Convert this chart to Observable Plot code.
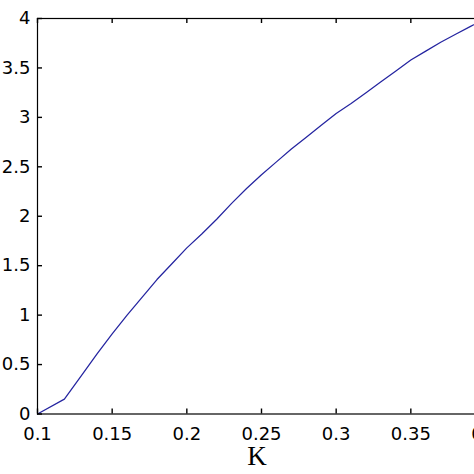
<!DOCTYPE html>
<html>
<head>
<meta charset="utf-8">
<script src="https://cdn.jsdelivr.net/npm/d3@7"></script>
<script src="https://cdn.jsdelivr.net/npm/@observablehq/plot@0.6"></script>
<style>
  html, body { margin: 0; padding: 0; overflow: hidden; background: white; width: 474px; height: 474px; }
</style>
</head>
<body>
<div id="chart"></div>
<script>
const kValues = [0.1, 0.118, 0.13, 0.14, 0.15, 0.16, 0.17, 0.18, 0.19, 0.2, 0.21, 0.22, 0.23, 0.24, 0.25, 0.26, 0.27, 0.28, 0.29, 0.3, 0.31, 0.32, 0.33, 0.34, 0.35, 0.36, 0.37, 0.38, 0.39, 0.4];
const yValues = [0, 0.15, 0.40, 0.61, 0.81, 1.00, 1.18, 1.36, 1.52, 1.68, 1.82, 1.97, 2.13, 2.28, 2.42, 2.55, 2.68, 2.80, 2.92, 3.04, 3.14, 3.25, 3.36, 3.47, 3.58, 3.67, 3.76, 3.84, 3.92, 4.0];
const xTicks = [0.1, 0.15, 0.2, 0.25, 0.3, 0.35, 0.4];
const xTickLabels = ["0.1", "0.15", "0.2", "0.25", "0.3", "0.35", "0.4"];
const yTicks = [0, 0.5, 1, 1.5, 2, 2.5, 3, 3.5, 4];
const yTickLabels = ["0", "0.5", "1", "1.5", "2", "2.5", "3", "3.5", "4"];
const xAxisTitle = ["K"];

const W = 522, H = 474, ML = 37, MR = 37, MT = 18, MB = 60.5, TICK = 5;
const frameW = W - ML - MR, frameH = H - MT - MB;

const data = kValues.map((k, i) => ({k, v: yValues[i]}));
const tickFont = {fontFamily: "DejaVu Sans", fontSize: 18};
const tickStyle = {stroke: "black", strokeWidth: 1.4};

const chart = Plot.plot({
  width: W,
  height: H,
  marginLeft: ML,
  marginRight: MR,
  marginTop: MT,
  marginBottom: MB,
  style: {fontFamily: "DejaVu Sans", background: "white", color: "black", maxWidth: "none", overflow: "hidden"},
  x: {domain: [0.1, 0.4], label: null},
  y: {domain: [0, 4], label: null},
  marks: [
    Plot.line(data, {x: "k", y: "v", stroke: "#2424a0", strokeWidth: 1.25}),
    // inward ticks on all four sides
    Plot.ruleX(xTicks, {x: d => d, insetTop: frameH - TICK, ...tickStyle}),
    Plot.ruleX(xTicks, {x: d => d, insetBottom: frameH - TICK, ...tickStyle}),
    Plot.ruleY(yTicks, {y: d => d, insetRight: frameW - TICK, ...tickStyle}),
    Plot.ruleY(yTicks, {y: d => d, insetLeft: frameW - TICK, ...tickStyle}),
    Plot.frame({stroke: "black", strokeWidth: 1.2}),
    Plot.axisX(xTicks, {anchor: "bottom", tickSize: 0, tickPadding: 13, label: null,
      tickFormat: d => xTickLabels[xTicks.indexOf(d)], ...tickFont}),
    Plot.axisY(yTicks, {anchor: "left", tickSize: 0, tickPadding: 7, label: null,
      tickFormat: d => yTickLabels[yTicks.indexOf(d)], ...tickFont}),
    Plot.text(xAxisTitle, {frameAnchor: "bottom", text: d => d, dx: -4.5, dy: 32, lineAnchor: "top",
      fontFamily: "Liberation Serif", fontSize: 27, fill: "black"})
  ]
});
document.getElementById("chart").appendChild(chart);
</script>
</body>
</html>
